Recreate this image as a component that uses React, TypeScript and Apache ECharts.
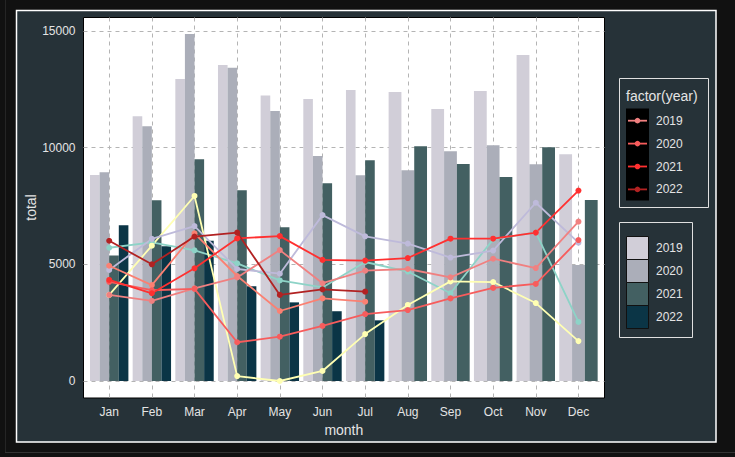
import React, { useEffect, useRef } from "react";
import * as echarts from "echarts";

const months = ["Jan", "Feb", "Mar", "Apr", "May", "Jun", "Jul", "Aug", "Sep", "Oct", "Nov", "Dec"];
const years = ["2019", "2020", "2021", "2022"];
const yTicks = [0, 5000, 10000, 15000];

// bar values (total per month)
const bars2019 = [8830, 11350, 12940, 13540, 12240, 12090, 12470, 12390, 11660, 12430, 13970, 9720];
const bars2020 = [8950, 10920, 14870, 13420, 11570, 9640, 8820, 9030, 9850, 10100, 9290, 4970];
const bars2021 = [5380, 7750, 9500, 8170, 6590, 8470, 9460, 10060, 9300, 8740, 10020, 7760];
const bars2022 = [6680, 5780, 6010, 4060, 3370, 2990, 2600];

// first group of lines (unlabelled palette)
const setA2019 = [5710, 5940, 5600, 5040, 4310, 4010, 5100, 4690, 3760, 6070, 6370, 2530];
const setA2020 = [3690, 5800, 7930, 210, 0, 430, 2010, 3260, 4270, 4240, 3340, 1710];
const setA2021 = [4760, 6090, 6640, 4800, 4600, 7110, 6200, 5890, 5290, 5590, 7640, 5930];
const setA2022 = [4940, 4110, 6330, 4500, 3000, 3540, 3400];

// second group of lines: factor(year)
const line2019 = [3690, 3430, 3970, 4440, 5610, 4190, 4730, 4800, 4440, 5240, 4840, 6830];
const line2020 = [4250, 3890, 3950, 1660, 1900, 2360, 2870, 3040, 3540, 3990, 4160, 6040];
const line2021 = [4330, 3760, 4830, 6110, 6210, 5190, 5160, 5270, 6100, 6100, 6360, 8160];
const line2022 = [6010, 5000, 6190, 6360, 3690, 3930, 3830];

const barColors = ["#d1ced8", "#abaeb9", "#436062", "#0b3546"];
const setAColors = ["#8DD3C7", "#FFFFB3", "#BEBADA", "#FB8072"];
const lineColors = ["#F08080", "#F75C5C", "#FF3030", "#B22222"];

const FONT = "Liberation Sans, Arial, sans-serif";
const TXT = "#e4e4e4";

export default function App() {
  const ref = useRef<HTMLDivElement>(null);

  useEffect(() => {
    document.body.style.margin = "0";
    const chart = echarts.init(ref.current!, null, { renderer: "svg" });

    const janX = 109.2;
    const step = 42.66;
    const panelL = 83.5;
    const panelR = 604.5;
    const panelT = 17.5;
    const panelB = 398;
    const y15 = 31;
    const y0 = 381;

    const barSets = [bars2019, bars2020, bars2021, bars2022];
    const nFull = bars2022.length;

    const barSeries: any[] = [];
    barSets.forEach((vals, k) => {
      barSeries.push({
        type: "bar",
        name: years[k],
        xAxisIndex: 0,
        yAxisIndex: 0,
        barGap: "0%",
        barCategoryGap: "10%",
        itemStyle: { color: barColors[k] },
        data: months.map((_, i) => (i < nFull && i < vals.length ? vals[i] : null)),
        z: 2,
      });
    });
    barSets.slice(0, 3).forEach((vals, k) => {
      barSeries.push({
        type: "bar",
        name: years[k] + "b",
        xAxisIndex: 1,
        yAxisIndex: 0,
        barGap: "0%",
        barCategoryGap: "10%",
        itemStyle: { color: barColors[k] },
        data: months.map((_, i) => (i >= nFull ? vals[i] : null)),
        z: 2,
      });
    });

    const mkLine = (name: string, vals: number[], color: string) => ({
      type: "line",
      name,
      xAxisIndex: 0,
      yAxisIndex: 0,
      data: vals,
      symbol: "circle",
      symbolSize: 6,
      showSymbol: true,
      lineStyle: { color, width: 1.8 },
      itemStyle: { color },
      z: 4,
    });

    const lineSeries = [
      mkLine("a2019", setA2019, setAColors[0]),
      mkLine("a2020", setA2020, setAColors[1]),
      mkLine("a2021", setA2021, setAColors[2]),
      mkLine("a2022", setA2022, setAColors[3]),
      mkLine("y2019", line2019, lineColors[0]),
      mkLine("y2020", line2020, lineColors[1]),
      mkLine("y2021", line2021, lineColors[2]),
      mkLine("y2022", line2022, lineColors[3]),
    ];

    const graphics: any[] = [
      { type: "line", shape: { x1: 5.5, y1: 0, x2: 5.5, y2: 452 }, style: { stroke: "#252525", lineWidth: 1 }, z: -20 },
      { type: "line", shape: { x1: 5, y1: 452.5, x2: 735, y2: 452.5 }, style: { stroke: "#333333", lineWidth: 1 }, z: -20 },
      {
        type: "rect",
        shape: { x: 16.5, y: 10.5, width: 699.5, height: 431.5 },
        style: { fill: "#263238", stroke: "#ffffff", lineWidth: 1.5 },
        z: -10,
      },
      {
        type: "rect",
        shape: { x: panelL, y: panelT, width: panelR - panelL, height: panelB - panelT },
        style: { fill: "#ffffff", stroke: "#000000", lineWidth: 1 },
        z: -5,
      },
      {
        type: "text",
        x: 31,
        y: 207.5,
        rotation: Math.PI / 2,
        style: { text: "total", fill: TXT, font: `14px ${FONT}`, textAlign: "center", textVerticalAlign: "middle" },
        z: 5,
      },
      // legend 1
      {
        type: "rect",
        shape: { x: 619.5, y: 78.5, width: 89, height: 129 },
        style: { fill: "none", stroke: "#e0e0e0", lineWidth: 1 },
        z: 5,
      },
      {
        type: "text",
        x: 626,
        y: 96,
        style: { text: "factor(year)", fill: TXT, font: `14px ${FONT}`, textVerticalAlign: "middle" },
        z: 5,
      },
      {
        type: "rect",
        shape: { x: 626, y: 108.5, width: 23, height: 92 },
        style: { fill: "#000000" },
        z: 5,
      },
      // legend 2
      {
        type: "rect",
        shape: { x: 619.5, y: 222.5, width: 73, height: 115 },
        style: { fill: "none", stroke: "#e0e0e0", lineWidth: 1 },
        z: 5,
      },
    ];

    years.forEach((yr, i) => {
      const cy = 120.7 + i * 22.9;
      graphics.push({
        type: "line",
        shape: { x1: 628, y1: cy, x2: 647, y2: cy },
        style: { stroke: lineColors[i], lineWidth: 1.8 },
        z: 6,
      });
      graphics.push({
        type: "circle",
        shape: { cx: 637.5, cy, r: 2.8 },
        style: { fill: lineColors[i] },
        z: 6,
      });
      graphics.push({
        type: "text",
        x: 656,
        y: cy,
        style: { text: yr, fill: TXT, font: `12px ${FONT}`, textVerticalAlign: "middle" },
        z: 6,
      });
      const by = 236.5 + i * 23;
      graphics.push({
        type: "rect",
        shape: { x: 626.5, y: by, width: 22, height: 23 },
        style: { fill: barColors[i], stroke: "#111111", lineWidth: 1 },
        z: 6,
      });
      graphics.push({
        type: "text",
        x: 656,
        y: by + 11.5,
        style: { text: yr, fill: TXT, font: `12px ${FONT}`, textVerticalAlign: "middle" },
        z: 6,
      });
    });

    const dashed = { color: "#b4b4b4", type: [4, 4] as any, width: 1 };

    chart.setOption({
      animation: false,
      backgroundColor: "#111111",
      textStyle: { fontFamily: FONT },
      graphic: graphics,
      grid: [
        { left: janX - step / 2, width: step * 12, top: y15, height: y0 - y15, containLabel: false },
        { left: panelL, width: panelR - panelL, top: y15, height: y0 - y15, containLabel: false },
        { left: janX, width: step * 11, top: panelT, height: panelB - panelT, containLabel: false },
      ],
      xAxis: [
        {
          type: "category",
          gridIndex: 0,
          data: months,
          boundaryGap: true,
          axisLine: { show: false },
          axisTick: { show: false },
          splitLine: { show: false },
          axisLabel: { color: TXT, fontSize: 12, fontFamily: FONT, margin: 25 },
          name: "month",
          nameLocation: "middle",
          nameGap: 36,
          nameTextStyle: { color: TXT, fontSize: 14, fontFamily: FONT },
        },
        {
          type: "category",
          gridIndex: 0,
          data: months,
          position: "top",
          show: false,
          boundaryGap: true,
        },
        {
          type: "value",
          gridIndex: 1,
          min: 0,
          max: 1,
          show: false,
          splitLine: { show: false },
        },
        {
          type: "value",
          gridIndex: 2,
          min: 0,
          max: months.length - 1,
          interval: 1,
          axisLine: { show: false },
          axisTick: { show: false },
          axisLabel: { show: false },
          splitLine: { show: true, lineStyle: dashed },
        },
      ],
      yAxis: [
        {
          type: "value",
          gridIndex: 0,
          min: 0,
          max: 15000,
          show: false,
          splitLine: { show: false },
        },
        {
          type: "value",
          gridIndex: 1,
          min: yTicks[0],
          max: yTicks[yTicks.length - 1],
          interval: yTicks[1] - yTicks[0],
          axisLine: { show: false },
          axisTick: { show: false },
          axisLabel: {
            color: TXT,
            fontSize: 12,
            fontFamily: FONT,
            margin: 8,
            formatter: (v: number) => String(v),
          },
          splitLine: { show: true, lineStyle: dashed },
        },
        {
          type: "value",
          gridIndex: 2,
          show: false,
          splitLine: { show: false },
        },
      ],
      series: [...barSeries, ...lineSeries],
    });

    return () => chart.dispose();
  }, []);

  return (
    <div
      ref={ref}
      style={{ position: "fixed", left: 0, top: 0, width: 735, height: 457 }}
    />
  );
}
